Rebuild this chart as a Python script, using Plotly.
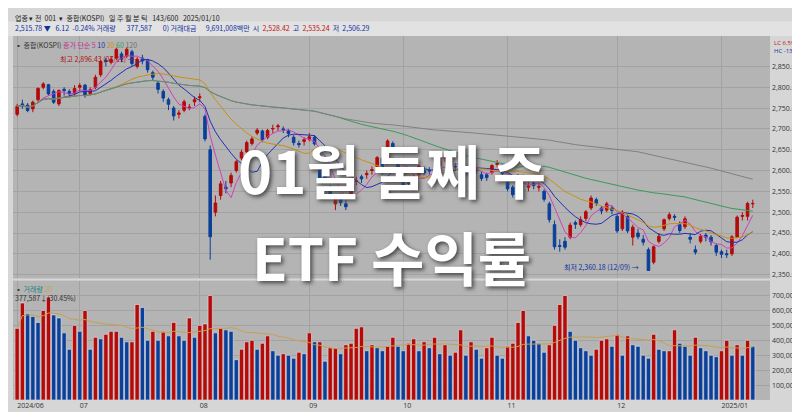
import pandas as pd
import plotly.graph_objects as go
from plotly.subplots import make_subplots

opens = [2735,2760,2757,2748,2770,2800,2806,2790,2760,2795,2790,2785,
 2800,2805,2785,2800,2830,2865,2860,2870,2880,2875,2885,2850,2870,2865,2835,2810,2790,2770,2750,2735,2745,2750,2765,
 2775,2730,2650,2500,2540,2560,2570,2600,2630,2645,2665,2690,2695,2680,2700,2705,2700,2695,2680,2665,2670,
 2675,2680,2610,2590,2560,2520,2540,2520,2540,2575,2585,2590,2600,2610,2630,2620,2665,2620,
 2580,2570,2580,2590,2600,2600,2595,2610,2630,2625,2610,2605,2600,2590,2605,2590,2590,2595,2615,2610,2580,
 2560,2550,2580,2560,2570,2560,2550,2520,2470,2420,2430,2440,2475,2470,2485,2510,2530,2510,2505,2510,2490,
 2460,2490,2440,2450,2435,2410,2380,2430,2460,2485,2490,2470,2465,2440,2410,2430,2445,2440,2420,2405,
 2400,2400,2440,2490,2490,2520,2525]
highs = [2760,2770,2762,2768,2800,2812,2808,2795,2795,2800,2795,2805,
 2810,2808,2800,2830,2865,2870,2875,2895,2885,2896,2890,2872,2878,2868,2840,2815,2795,2775,2755,2745,2770,2760,2778,
 2785,2735,2660,2540,2575,2575,2595,2625,2650,2672,2682,2702,2698,2700,2710,2712,2706,2700,2685,2672,2680,
 2690,2685,2615,2595,2565,2540,2545,2530,2575,2585,2590,2600,2610,2635,2635,2675,2670,2625,
 2585,2580,2590,2615,2610,2608,2605,2630,2640,2630,2618,2620,2605,2610,2610,2598,2595,2615,2625,2615,2585,
 2565,2592,2590,2575,2580,2570,2555,2525,2480,2435,2440,2475,2480,2490,2505,2540,2535,2515,2525,2515,2495,
 2505,2495,2470,2460,2445,2415,2420,2450,2485,2500,2495,2478,2490,2450,2420,2448,2450,2445,2425,2410,
 2410,2445,2492,2500,2525,2530,2528]
lows = [2730,2748,2740,2740,2765,2795,2780,2760,2755,2780,2775,2780,
 2790,2775,2780,2795,2825,2850,2855,2865,2860,2870,2850,2845,2855,2835,2815,2785,2765,2745,2720,2725,2740,2745,2755,
 2765,2670,2386,2490,2530,2545,2560,2595,2625,2640,2660,2685,2668,2675,2690,2695,2690,2680,2660,2655,2660,
 2670,2660,2575,2570,2535,2505,2515,2505,2535,2565,2570,2580,2590,2605,2590,2615,2645,2585,
 2555,2555,2565,2585,2590,2590,2585,2605,2620,2605,2600,2598,2585,2585,2592,2575,2575,2590,2608,2588,2550,
 2535,2545,2570,2550,2555,2550,2525,2475,2410,2405,2410,2435,2460,2465,2478,2505,2515,2495,2500,2495,2450,
 2455,2450,2420,2435,2420,2360,2375,2425,2455,2480,2480,2450,2460,2425,2398,2425,2430,2420,2395,2390,
 2390,2395,2438,2480,2480,2510,2505]
closes = [2754,2758,2744,2764,2797,2808,2784,2764,2792,2792,2784,2797,
 2804,2780,2794,2824,2862,2862,2867,2891,2867,2891,2857,2867,2863,2842,2824,2795,2774,2759,2731,2738,2765,2752,2770,
 2777,2676,2441,2522,2568,2556,2588,2621,2644,2667,2676,2697,2674,2696,2701,2707,2698,2689,2667,2662,2674,
 2681,2664,2580,2576,2544,2535,2523,2513,2572,2575,2580,2593,2602,2631,2596,2671,2649,2593,
 2561,2569,2570,2611,2594,2599,2596,2623,2633,2610,2609,2614,2593,2604,2599,2581,2583,2612,2617,2593,2556,
 2542,2588,2576,2563,2564,2561,2531,2482,2417,2418,2416,2469,2471,2482,2501,2534,2521,2503,2520,2504,2455,
 2500,2455,2464,2441,2428,2360,2417,2442,2482,2494,2488,2456,2484,2435,2404,2442,2440,2429,2404,2399,
 2398,2441,2488,2492,2521,2521,2515]
volumes = [480,650,580,560,520,600,690,570,550,450,340,500,
 460,600,340,420,410,440,460,460,420,390,390,640,620,400,460,400,460,430,520,430,400,550,420,
 500,510,700,450,480,470,460,270,340,390,400,340,380,430,330,300,310,300,280,320,310,
 450,390,390,260,350,350,310,370,380,480,490,330,370,350,330,360,420,360,
 330,380,410,330,390,350,420,310,370,300,320,470,300,390,340,280,350,420,300,280,360,
 380,520,600,430,400,380,320,370,500,640,700,460,400,350,330,300,340,400,410,360,440,
 300,430,370,360,300,280,440,340,330,330,470,380,360,300,420,350,330,300,290,330,
 400,300,370,300,400,360,370]
month_labels = ["2024/06","07","08","09","10","11","12","2025/01"]
holidays = ["2024-08-15","2024-09-16","2024-09-17","2024-09-18","2024-10-01","2024-10-03","2024-10-09",
            "2024-12-25","2024-12-31","2025-01-01"]

dates = [d for d in pd.bdate_range("2024-06-13", "2025-01-10") if d.strftime("%Y-%m-%d") not in holidays]
n = min(len(dates), len(closes))
x = list(range(n))
s = pd.Series(closes[:n])
RED, BLUE = "#b40a0a", "#0a3f9a"
vol_up = [True] + [volumes[i] >= volumes[i - 1] for i in range(1, n)]

fig = make_subplots(rows=2, cols=1, shared_xaxes=True, row_heights=[0.67, 0.33], vertical_spacing=0.006)
fig.add_trace(go.Candlestick(x=x, open=opens[:n], high=highs[:n], low=lows[:n], close=closes[:n],
    increasing=dict(line=dict(color=RED, width=1), fillcolor=RED),
    decreasing=dict(line=dict(color=BLUE, width=1), fillcolor=BLUE), whiskerwidth=0), row=1, col=1)
for w, c in [(5, "#d040c0"), (10, "#2030b0"), (20, "#c89010"), (60, "#3a9a5a"), (120, "#808080")]:
    fig.add_trace(go.Scatter(x=x, y=s.rolling(w, min_periods=1).mean(), mode="lines",
                             line=dict(color=c, width=1)), row=1, col=1)
fig.add_trace(go.Bar(x=x, y=[v * 1000 for v in volumes[:n]], marker=dict(color=[RED if u else BLUE for u in vol_up],
              line=dict(color="#e8e8e8", width=0.6)), width=0.82), row=2, col=1)
fig.add_trace(go.Scatter(x=x, y=pd.Series(volumes[:n]).rolling(20, min_periods=1).mean() * 1000, mode="lines",
                         line=dict(color="#c8a050", width=1)), row=2, col=1)

month_idx = [0] + [i for i in range(1, n) if dates[i].month != dates[i - 1].month]
grid = dict(showgrid=True, gridcolor="#a2a2a2", gridwidth=1)
fig.update_xaxes(range=[-0.8, n + 2.3], tickvals=month_idx, ticktext=month_labels, rangeslider_visible=False,
                 showline=False, zeroline=False, **grid)
fig.update_xaxes(showticklabels=False, row=1, col=1)
fig.update_xaxes(ticks="", tickfont=dict(size=7, color="#333"), ticklabelposition="outside right", row=2, col=1)
fig.update_yaxes(side="right", tickfont=dict(size=7, color="#333"), ticklabelstandoff=1, zeroline=False, **grid)
fig.update_yaxes(range=[2341, 2923], tickvals=list(range(2350, 2900, 50)), tickformat=",.2f", row=1, col=1)
fig.update_yaxes(range=[0, 800000], tickvals=list(range(100000, 800000, 100000)), tickformat=",", row=2, col=1)

ann = [dict(x=0.5, y=0.635, text="01월 둘째 주"), dict(x=0.5, y=0.395, text="ETF 수익률")]
for a in ann:
    fig.add_annotation(xref="paper", yref="paper", showarrow=False, font=dict(family="Noto Sans CJK KR", size=58,
        color="white", weight="bold", shadow="2px 2px 4px #444"), **a)
small = dict(family="Noto Sans CJK KR", size=7)
fig.add_annotation(xref="paper", yref="paper", x=0.0, y=0.995, xanchor="left", yanchor="top", showarrow=False,
    text="▪ 종합(KOSPI) <span style='color:#c03090'>종가 단순 5</span> <span style='color:#2030b0'>10</span> <span style='color:#c89010'>20</span> <span style='color:#3a9a5a'>60</span> <span style='color:#707070'>120</span>",
    font=dict(color="#333", **small))
fig.add_annotation(xref="paper", yref="paper", x=0.06, y=0.955, xanchor="left", yanchor="top", showarrow=False,
    text="최고 2,896.43 (07/11) →", font=dict(color="#b01010", **small))
fig.add_annotation(xref="paper", yref="paper", x=0.725, y=0.345, xanchor="left", yanchor="bottom", showarrow=False,
    text="최저 2,360.18 (12/09) →", font=dict(color="#1030a0", **small))
fig.add_annotation(xref="paper", yref="paper", x=0.0, y=0.325, xanchor="left", yanchor="top", showarrow=False,
    text="▪ <span style='color:#208080'>거래량</span> <span style='color:#c8a050'>20</span><br>377,587↓(30.45%)", align="left",
    font=dict(color="#333", **small))
fig.add_annotation(xref="paper", yref="paper", x=1.002, y=0.998, xanchor="left", yanchor="top", showarrow=False,
    text="<span style='color:#c01010'>LC 6.59</span><br><span style='color:#1030a0'>HC -13.74</span>", align="left",
    font=dict(size=6))
fig.add_annotation(xref="paper", yref="paper", x=0.0, y=1.022, xanchor="left", yanchor="middle", showarrow=False,
    text="2,515.78 ▼   6.12  -0.24% 거래량       377,587       0) 거래대금      9,691,008백만  시  <span style='color:#c01010'>2,528.42</span>  고  <span style='color:#c01010'>2,535.24</span>  저  <span style='color:#1030a0'>2,506.29</span>",
    font=dict(color="#1030a0", **small))
fig.add_annotation(xref="paper", yref="paper", x=0.0, y=1.05, xanchor="left", yanchor="middle", showarrow=False,
    text="업종 ▾ 전  001  ▾  종합(KOSPI)   일 주 월 분 틱   143/600   2025/01/10",
    font=dict(color="#222", **small))

fig.update_layout(width=800, height=412, margin=dict(l=5, r=38, t=28, b=20), showlegend=False,
    plot_bgcolor="#b4b4b4", paper_bgcolor="#d6d6d6", bargap=0.15,
    shapes=[dict(type="rect", xref="paper", yref="paper", x0=-0.01, x1=1.05, y0=1.0, y1=1.04,
                 fillcolor="#e2e2e2", line=dict(width=0), layer="below")])
fig.write_html("out.html")
